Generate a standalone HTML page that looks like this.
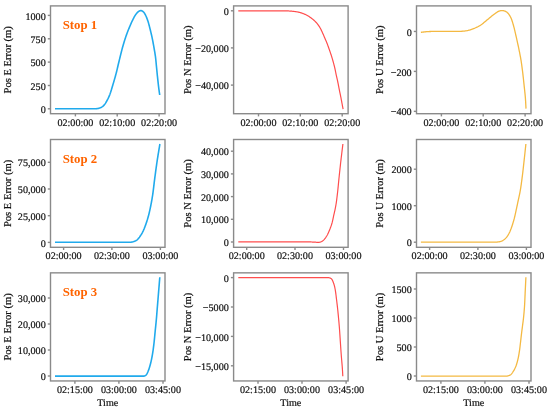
<!DOCTYPE html>
<html><head><meta charset="utf-8"><style>
html,body{margin:0;padding:0;background:#fff;}
svg{display:block;}
.t{font-family:"Liberation Serif","Times New Roman",serif;font-size:10.15px;fill:#111;stroke:#111;stroke-width:0.2px;text-rendering:geometricPrecision;}
.s{font-family:"Liberation Serif","Times New Roman",serif;font-size:13.5px;font-weight:bold;fill:#ff6400;}
</style></head><body>
<svg width="550" height="411" viewBox="0 0 550 411">
<rect width="550" height="411" fill="#fff"/>
<path d="M55.00 108.70 L96.00 108.70 L96.30 108.68 L96.59 108.66 L96.88 108.63 L97.15 108.61 L97.43 108.57 L97.70 108.54 L97.97 108.49 L98.24 108.44 L98.52 108.37 L98.80 108.30 L99.12 108.20 L99.44 108.10 L99.77 107.98 L100.11 107.86 L100.44 107.72 L100.76 107.58 L101.09 107.42 L101.40 107.26 L101.71 107.08 L102.00 106.90 L102.28 106.71 L102.55 106.51 L102.81 106.31 L103.06 106.09 L103.31 105.87 L103.56 105.64 L103.80 105.39 L104.03 105.14 L104.27 104.87 L104.50 104.60 L104.77 104.26 L105.04 103.89 L105.30 103.50 L105.56 103.10 L105.81 102.69 L106.06 102.27 L106.30 101.84 L106.54 101.42 L106.77 101.01 L107.00 100.60 L107.21 100.22 L107.41 99.85 L107.61 99.48 L107.80 99.11 L107.99 98.74 L108.18 98.37 L108.36 97.99 L108.54 97.60 L108.72 97.21 L108.90 96.80 L109.10 96.33 L109.30 95.84 L109.49 95.35 L109.69 94.85 L109.88 94.34 L110.06 93.82 L110.25 93.30 L110.43 92.77 L110.62 92.24 L110.80 91.70 L111.00 91.10 L111.19 90.49 L111.38 89.86 L111.57 89.23 L111.76 88.60 L111.95 87.96 L112.14 87.32 L112.32 86.68 L112.51 86.04 L112.70 85.40 L112.89 84.76 L113.08 84.13 L113.27 83.49 L113.46 82.86 L113.66 82.22 L113.85 81.58 L114.04 80.94 L114.23 80.30 L114.41 79.65 L114.60 79.00 L114.79 78.31 L114.99 77.62 L115.18 76.93 L115.38 76.23 L115.57 75.53 L115.76 74.83 L115.95 74.12 L116.14 73.41 L116.32 72.71 L116.50 72.00 L116.68 71.29 L116.85 70.57 L117.02 69.86 L117.19 69.14 L117.36 68.43 L117.52 67.71 L117.69 66.98 L117.86 66.26 L118.03 65.53 L118.20 64.80 L118.38 64.03 L118.57 63.27 L118.75 62.50 L118.94 61.72 L119.13 60.95 L119.32 60.16 L119.51 59.38 L119.71 58.59 L119.90 57.80 L120.10 57.00 L120.31 56.15 L120.52 55.28 L120.74 54.40 L120.96 53.52 L121.18 52.64 L121.40 51.75 L121.62 50.87 L121.85 50.00 L122.07 49.14 L122.30 48.30 L122.51 47.52 L122.73 46.75 L122.95 45.99 L123.16 45.23 L123.38 44.48 L123.60 43.73 L123.83 42.99 L124.05 42.26 L124.27 41.53 L124.50 40.80 L124.71 40.12 L124.92 39.45 L125.13 38.79 L125.35 38.14 L125.56 37.49 L125.78 36.84 L126.00 36.18 L126.23 35.53 L126.46 34.87 L126.70 34.20 L126.97 33.48 L127.24 32.75 L127.52 32.02 L127.81 31.28 L128.10 30.54 L128.40 29.80 L128.70 29.06 L129.00 28.33 L129.30 27.61 L129.60 26.90 L129.88 26.23 L130.17 25.56 L130.45 24.90 L130.74 24.24 L131.02 23.58 L131.31 22.93 L131.60 22.29 L131.90 21.65 L132.20 21.02 L132.50 20.40 L132.79 19.82 L133.07 19.24 L133.36 18.65 L133.66 18.08 L133.95 17.51 L134.25 16.95 L134.55 16.41 L134.86 15.88 L135.18 15.38 L135.50 14.90 L135.77 14.51 L136.05 14.13 L136.33 13.75 L136.62 13.39 L136.90 13.03 L137.19 12.70 L137.49 12.39 L137.79 12.10 L138.09 11.83 L138.40 11.60 L138.65 11.43 L138.91 11.27 L139.17 11.12 L139.43 10.98 L139.69 10.86 L139.96 10.76 L140.22 10.68 L140.48 10.63 L140.74 10.60 L141.00 10.60 L141.26 10.64 L141.52 10.70 L141.78 10.80 L142.04 10.92 L142.30 11.06 L142.55 11.22 L142.80 11.40 L143.04 11.59 L143.28 11.79 L143.50 12.00 L143.76 12.26 L144.00 12.56 L144.24 12.87 L144.46 13.21 L144.68 13.56 L144.89 13.93 L145.09 14.31 L145.30 14.70 L145.50 15.10 L145.70 15.50 L145.94 15.99 L146.18 16.51 L146.41 17.03 L146.63 17.58 L146.85 18.14 L147.07 18.71 L147.28 19.29 L147.49 19.88 L147.69 20.49 L147.90 21.10 L148.14 21.83 L148.37 22.59 L148.60 23.36 L148.82 24.15 L149.04 24.96 L149.25 25.77 L149.47 26.60 L149.68 27.43 L149.89 28.26 L150.10 29.10 L150.33 30.01 L150.56 30.94 L150.79 31.87 L151.01 32.82 L151.23 33.77 L151.46 34.73 L151.67 35.69 L151.89 36.66 L152.10 37.63 L152.30 38.60 L152.51 39.62 L152.71 40.65 L152.91 41.69 L153.11 42.75 L153.30 43.80 L153.49 44.85 L153.68 45.88 L153.86 46.91 L154.03 47.92 L154.20 48.90 L154.35 49.75 L154.49 50.57 L154.63 51.39 L154.77 52.19 L154.90 52.98 L155.03 53.78 L155.15 54.57 L155.27 55.37 L155.39 56.18 L155.50 57.00 L155.61 57.87 L155.71 58.74 L155.80 59.61 L155.89 60.48 L155.97 61.36 L156.06 62.25 L156.14 63.15 L156.22 64.05 L156.31 64.97 L156.40 65.90 L156.51 66.96 L156.61 68.03 L156.72 69.13 L156.83 70.24 L156.94 71.36 L157.05 72.49 L157.16 73.61 L157.27 74.72 L157.39 75.82 L157.50 76.90 L157.61 77.92 L157.71 78.93 L157.82 79.94 L157.93 80.94 L158.04 81.94 L158.15 82.93 L158.26 83.92 L158.37 84.89 L158.49 85.85 L158.60 86.80 L158.71 87.65 L158.81 88.49 L158.92 89.32 L159.03 90.14 L159.14 90.95 L159.26 91.76 L159.37 92.56 L159.48 93.37 L159.59 94.18 L159.70 95.00" fill="none" stroke="#20aaec" stroke-width="1.60" stroke-linejoin="round" stroke-linecap="butt"/>
<rect x="50.50" y="5.90" width="114.50" height="107.80" fill="none" stroke="#8a8a8a" stroke-width="1.40"/>
<line x1="47.80" y1="108.80" x2="50.50" y2="108.80" stroke="#8a8a8a" stroke-width="1.40"/>
<text x="45.70" y="112.90" text-anchor="end" class="t">0</text>
<line x1="47.80" y1="85.50" x2="50.50" y2="85.50" stroke="#8a8a8a" stroke-width="1.40"/>
<text x="45.70" y="89.60" text-anchor="end" class="t">250</text>
<line x1="47.80" y1="62.10" x2="50.50" y2="62.10" stroke="#8a8a8a" stroke-width="1.40"/>
<text x="45.70" y="66.20" text-anchor="end" class="t">500</text>
<line x1="47.80" y1="38.80" x2="50.50" y2="38.80" stroke="#8a8a8a" stroke-width="1.40"/>
<text x="45.70" y="42.90" text-anchor="end" class="t">750</text>
<line x1="47.80" y1="15.40" x2="50.50" y2="15.40" stroke="#8a8a8a" stroke-width="1.40"/>
<text x="45.70" y="19.50" text-anchor="end" class="t">1000</text>
<line x1="75.40" y1="113.70" x2="75.40" y2="116.40" stroke="#8a8a8a" stroke-width="1.40"/>
<text x="75.40" y="125.60" text-anchor="middle" class="t">02:00:00</text>
<line x1="117.20" y1="113.70" x2="117.20" y2="116.40" stroke="#8a8a8a" stroke-width="1.40"/>
<text x="117.20" y="125.60" text-anchor="middle" class="t">02:10:00</text>
<line x1="159.10" y1="113.70" x2="159.10" y2="116.40" stroke="#8a8a8a" stroke-width="1.40"/>
<text x="159.10" y="125.60" text-anchor="middle" class="t">02:20:00</text>
<text transform="translate(11.10 59.80) rotate(-90)" text-anchor="middle" class="t" style="font-size:10.6px">Pos E Error (m)</text>
<path d="M238.30 10.90 L282.00 10.90 L282.64 10.90 L283.32 10.91 L284.03 10.91 L284.77 10.91 L285.52 10.91 L286.28 10.92 L287.03 10.93 L287.75 10.95 L288.45 10.97 L289.10 11.00 L289.59 11.03 L290.07 11.06 L290.52 11.09 L290.97 11.13 L291.41 11.16 L291.85 11.21 L292.28 11.25 L292.71 11.30 L293.15 11.35 L293.60 11.40 L294.06 11.46 L294.52 11.51 L294.98 11.57 L295.44 11.63 L295.91 11.69 L296.37 11.76 L296.83 11.84 L297.29 11.92 L297.74 12.00 L298.20 12.10 L298.65 12.20 L299.11 12.31 L299.56 12.42 L300.01 12.54 L300.46 12.67 L300.91 12.80 L301.36 12.94 L301.81 13.09 L302.25 13.24 L302.70 13.40 L303.16 13.58 L303.63 13.76 L304.09 13.95 L304.56 14.15 L305.02 14.35 L305.48 14.57 L305.94 14.79 L306.40 15.02 L306.85 15.25 L307.30 15.50 L307.76 15.76 L308.22 16.03 L308.68 16.31 L309.13 16.60 L309.58 16.89 L310.03 17.20 L310.47 17.51 L310.92 17.83 L311.36 18.16 L311.80 18.50 L312.27 18.88 L312.75 19.26 L313.23 19.66 L313.70 20.07 L314.18 20.48 L314.64 20.91 L315.10 21.35 L315.55 21.79 L315.98 22.24 L316.40 22.70 L316.80 23.16 L317.20 23.64 L317.58 24.12 L317.95 24.62 L318.32 25.12 L318.67 25.62 L319.02 26.14 L319.35 26.65 L319.68 27.18 L320.00 27.70 L320.31 28.23 L320.60 28.77 L320.89 29.31 L321.16 29.87 L321.43 30.42 L321.69 30.98 L321.94 31.54 L322.20 32.09 L322.45 32.65 L322.70 33.20 L322.94 33.73 L323.18 34.27 L323.42 34.80 L323.65 35.34 L323.88 35.87 L324.11 36.40 L324.33 36.93 L324.56 37.46 L324.78 37.98 L325.00 38.50 L325.21 38.98 L325.41 39.45 L325.61 39.91 L325.81 40.37 L326.01 40.83 L326.21 41.28 L326.41 41.75 L326.61 42.22 L326.80 42.70 L327.00 43.20 L327.22 43.78 L327.45 44.37 L327.67 44.97 L327.89 45.58 L328.11 46.20 L328.33 46.82 L328.55 47.44 L328.77 48.07 L328.98 48.69 L329.20 49.30 L329.42 49.91 L329.63 50.52 L329.85 51.13 L330.06 51.74 L330.27 52.35 L330.49 52.96 L330.69 53.57 L330.90 54.18 L331.10 54.79 L331.30 55.40 L331.49 56.01 L331.68 56.62 L331.87 57.23 L332.05 57.84 L332.23 58.45 L332.41 59.06 L332.58 59.67 L332.76 60.28 L332.93 60.89 L333.10 61.50 L333.27 62.11 L333.44 62.71 L333.60 63.32 L333.77 63.92 L333.93 64.53 L334.09 65.14 L334.24 65.75 L334.40 66.36 L334.55 66.98 L334.70 67.60 L334.85 68.25 L334.99 68.91 L335.13 69.57 L335.27 70.23 L335.41 70.90 L335.54 71.57 L335.68 72.25 L335.81 72.93 L335.95 73.61 L336.10 74.30 L336.26 75.05 L336.43 75.80 L336.60 76.56 L336.77 77.33 L336.95 78.10 L337.12 78.88 L337.29 79.65 L337.47 80.43 L337.63 81.22 L337.80 82.00 L337.97 82.81 L338.13 83.63 L338.29 84.46 L338.45 85.30 L338.61 86.13 L338.77 86.96 L338.93 87.79 L339.09 88.61 L339.24 89.41 L339.40 90.20 L339.54 90.91 L339.69 91.60 L339.83 92.29 L339.97 92.96 L340.11 93.64 L340.25 94.31 L340.39 94.98 L340.53 95.65 L340.66 96.32 L340.80 97.00 L340.94 97.69 L341.07 98.39 L341.20 99.09 L341.34 99.80 L341.47 100.50 L341.60 101.20 L341.73 101.89 L341.85 102.58 L341.98 103.25 L342.10 103.90 L342.21 104.46 L342.31 105.00 L342.41 105.54 L342.51 106.07 L342.61 106.59 L342.71 107.11 L342.80 107.63 L342.90 108.15 L343.00 108.67 L343.10 109.20" fill="none" stroke="#ff4d4d" stroke-width="1.20" stroke-linejoin="round" stroke-linecap="butt"/>
<rect x="233.60" y="5.90" width="114.50" height="107.80" fill="none" stroke="#8a8a8a" stroke-width="1.40"/>
<line x1="230.90" y1="10.80" x2="233.60" y2="10.80" stroke="#8a8a8a" stroke-width="1.40"/>
<text x="228.80" y="14.90" text-anchor="end" class="t">0</text>
<line x1="230.90" y1="47.90" x2="233.60" y2="47.90" stroke="#8a8a8a" stroke-width="1.40"/>
<text x="228.80" y="52.00" text-anchor="end" class="t">−20,000</text>
<line x1="230.90" y1="85.10" x2="233.60" y2="85.10" stroke="#8a8a8a" stroke-width="1.40"/>
<text x="228.80" y="89.20" text-anchor="end" class="t">−40,000</text>
<line x1="258.50" y1="113.70" x2="258.50" y2="116.40" stroke="#8a8a8a" stroke-width="1.40"/>
<text x="258.50" y="125.60" text-anchor="middle" class="t">02:00:00</text>
<line x1="300.30" y1="113.70" x2="300.30" y2="116.40" stroke="#8a8a8a" stroke-width="1.40"/>
<text x="300.30" y="125.60" text-anchor="middle" class="t">02:10:00</text>
<line x1="342.20" y1="113.70" x2="342.20" y2="116.40" stroke="#8a8a8a" stroke-width="1.40"/>
<text x="342.20" y="125.60" text-anchor="middle" class="t">02:20:00</text>
<text transform="translate(190.90 59.80) rotate(-90)" text-anchor="middle" class="t" style="font-size:10.6px">Pos N Error (m)</text>
<path d="M420.90 32.30 L421.62 32.23 L422.33 32.15 L423.04 32.07 L423.75 32.00 L424.46 31.92 L425.17 31.84 L425.89 31.77 L426.62 31.71 L427.35 31.65 L428.10 31.60 L428.93 31.56 L429.77 31.52 L430.62 31.49 L431.47 31.47 L432.34 31.45 L433.21 31.44 L434.09 31.43 L434.98 31.42 L435.89 31.41 L436.80 31.40 L437.84 31.39 L438.90 31.38 L439.98 31.38 L441.07 31.38 L442.17 31.39 L443.28 31.39 L444.39 31.39 L445.50 31.40 L446.60 31.40 L447.70 31.40 L448.80 31.40 L449.91 31.41 L451.02 31.43 L452.14 31.44 L453.25 31.45 L454.35 31.46 L455.45 31.46 L456.52 31.46 L457.57 31.43 L458.60 31.40 L459.47 31.36 L460.33 31.33 L461.18 31.29 L462.01 31.24 L462.83 31.19 L463.64 31.13 L464.44 31.05 L465.24 30.95 L466.02 30.84 L466.80 30.70 L467.51 30.55 L468.21 30.39 L468.90 30.21 L469.58 30.02 L470.26 29.81 L470.93 29.59 L471.60 29.36 L472.26 29.12 L472.93 28.86 L473.60 28.60 L474.30 28.32 L475.00 28.03 L475.70 27.72 L476.40 27.41 L477.09 27.08 L477.78 26.74 L478.47 26.38 L479.15 26.00 L479.83 25.61 L480.50 25.20 L481.20 24.73 L481.90 24.24 L482.58 23.72 L483.26 23.18 L483.94 22.62 L484.61 22.05 L485.28 21.48 L485.95 20.91 L486.62 20.35 L487.30 19.80 L487.99 19.24 L488.68 18.68 L489.37 18.10 L490.07 17.52 L490.76 16.94 L491.45 16.37 L492.13 15.82 L492.80 15.28 L493.46 14.78 L494.10 14.30 L494.61 13.93 L495.10 13.56 L495.59 13.20 L496.06 12.85 L496.54 12.51 L497.01 12.20 L497.48 11.90 L497.95 11.64 L498.42 11.40 L498.90 11.20 L499.31 11.05 L499.72 10.92 L500.14 10.81 L500.55 10.72 L500.96 10.64 L501.37 10.59 L501.78 10.56 L502.19 10.55 L502.60 10.56 L503.00 10.60 L503.41 10.67 L503.83 10.76 L504.24 10.87 L504.66 11.01 L505.07 11.17 L505.48 11.35 L505.87 11.56 L506.26 11.78 L506.64 12.03 L507.00 12.30 L507.40 12.64 L507.80 13.03 L508.17 13.44 L508.54 13.89 L508.90 14.37 L509.24 14.86 L509.57 15.38 L509.89 15.91 L510.20 16.45 L510.50 17.00 L510.83 17.65 L511.14 18.34 L511.43 19.04 L511.71 19.77 L511.97 20.52 L512.22 21.28 L512.47 22.07 L512.71 22.86 L512.95 23.68 L513.20 24.50 L513.49 25.51 L513.78 26.55 L514.06 27.62 L514.33 28.71 L514.59 29.82 L514.86 30.95 L515.12 32.09 L515.38 33.23 L515.64 34.37 L515.90 35.50 L516.18 36.69 L516.45 37.90 L516.73 39.12 L517.01 40.34 L517.28 41.57 L517.55 42.80 L517.82 44.03 L518.09 45.26 L518.35 46.48 L518.60 47.70 L518.85 48.90 L519.09 50.09 L519.34 51.29 L519.58 52.48 L519.81 53.67 L520.04 54.86 L520.27 56.05 L520.49 57.24 L520.70 58.42 L520.90 59.60 L521.09 60.73 L521.26 61.85 L521.43 62.96 L521.59 64.07 L521.75 65.18 L521.90 66.29 L522.05 67.42 L522.20 68.55 L522.35 69.71 L522.50 70.90 L522.67 72.27 L522.84 73.68 L523.00 75.12 L523.17 76.57 L523.33 78.04 L523.49 79.52 L523.64 80.99 L523.80 82.45 L523.95 83.89 L524.10 85.30 L524.24 86.62 L524.38 87.93 L524.53 89.23 L524.67 90.53 L524.80 91.82 L524.94 93.11 L525.07 94.38 L525.19 95.63 L525.30 96.87 L525.40 98.10 L525.48 99.19 L525.55 100.27 L525.62 101.32 L525.68 102.37 L525.73 103.41 L525.79 104.45 L525.84 105.48 L525.89 106.52 L525.94 107.55 L526.00 108.60" fill="none" stroke="#f4b942" stroke-width="1.30" stroke-linejoin="round" stroke-linecap="butt"/>
<rect x="416.50" y="5.90" width="114.50" height="107.80" fill="none" stroke="#8a8a8a" stroke-width="1.40"/>
<line x1="413.80" y1="31.45" x2="416.50" y2="31.45" stroke="#8a8a8a" stroke-width="1.40"/>
<text x="411.70" y="35.55" text-anchor="end" class="t">0</text>
<line x1="413.80" y1="71.40" x2="416.50" y2="71.40" stroke="#8a8a8a" stroke-width="1.40"/>
<text x="411.70" y="75.50" text-anchor="end" class="t">−200</text>
<line x1="413.80" y1="111.35" x2="416.50" y2="111.35" stroke="#8a8a8a" stroke-width="1.40"/>
<text x="411.70" y="115.45" text-anchor="end" class="t">−400</text>
<line x1="441.40" y1="113.70" x2="441.40" y2="116.40" stroke="#8a8a8a" stroke-width="1.40"/>
<text x="441.40" y="125.60" text-anchor="middle" class="t">02:00:00</text>
<line x1="483.20" y1="113.70" x2="483.20" y2="116.40" stroke="#8a8a8a" stroke-width="1.40"/>
<text x="483.20" y="125.60" text-anchor="middle" class="t">02:10:00</text>
<line x1="525.10" y1="113.70" x2="525.10" y2="116.40" stroke="#8a8a8a" stroke-width="1.40"/>
<text x="525.10" y="125.60" text-anchor="middle" class="t">02:20:00</text>
<text transform="translate(383.30 59.80) rotate(-90)" text-anchor="middle" class="t" style="font-size:10.6px">Pos U Error (m)</text>
<text transform="translate(62.7 28.60) scale(0.95 1)" class="s">Stop 1</text>
<path d="M55.00 242.30 L129.70 242.30 L130.10 242.26 L130.51 242.22 L130.92 242.18 L131.33 242.13 L131.73 242.07 L132.14 242.00 L132.54 241.92 L132.93 241.83 L133.32 241.72 L133.70 241.60 L134.06 241.47 L134.42 241.33 L134.77 241.19 L135.12 241.03 L135.46 240.86 L135.80 240.68 L136.13 240.49 L136.46 240.28 L136.78 240.05 L137.10 239.80 L137.46 239.49 L137.81 239.14 L138.16 238.77 L138.50 238.38 L138.83 237.97 L139.16 237.54 L139.48 237.11 L139.79 236.67 L140.10 236.23 L140.40 235.80 L140.70 235.36 L140.99 234.92 L141.27 234.47 L141.55 234.01 L141.81 233.55 L142.08 233.08 L142.34 232.60 L142.59 232.12 L142.85 231.61 L143.10 231.10 L143.39 230.49 L143.67 229.86 L143.95 229.22 L144.23 228.57 L144.50 227.90 L144.76 227.22 L145.02 226.53 L145.28 225.82 L145.54 225.12 L145.80 224.40 L146.09 223.58 L146.37 222.74 L146.66 221.88 L146.94 221.01 L147.21 220.13 L147.49 219.25 L147.75 218.36 L148.01 217.47 L148.26 216.58 L148.50 215.70 L148.73 214.84 L148.95 213.98 L149.16 213.13 L149.36 212.28 L149.55 211.42 L149.75 210.56 L149.94 209.69 L150.12 208.81 L150.31 207.91 L150.50 207.00 L150.71 205.97 L150.92 204.93 L151.12 203.89 L151.32 202.84 L151.52 201.77 L151.72 200.68 L151.92 199.56 L152.11 198.41 L152.31 197.23 L152.50 196.00 L152.75 194.32 L152.99 192.55 L153.24 190.70 L153.47 188.79 L153.71 186.84 L153.95 184.88 L154.18 182.91 L154.42 180.97 L154.66 179.05 L154.90 177.20 L155.13 175.50 L155.35 173.81 L155.57 172.14 L155.80 170.48 L156.02 168.83 L156.25 167.19 L156.48 165.54 L156.71 163.90 L156.95 162.25 L157.20 160.60 L157.45 158.94 L157.71 157.28 L157.98 155.62 L158.25 153.96 L158.53 152.30 L158.80 150.64 L159.08 148.98 L159.35 147.32 L159.63 145.66 L159.90 144.00" fill="none" stroke="#20aaec" stroke-width="1.60" stroke-linejoin="round" stroke-linecap="butt"/>
<rect x="50.50" y="139.50" width="114.50" height="107.80" fill="none" stroke="#8a8a8a" stroke-width="1.40"/>
<line x1="47.80" y1="242.40" x2="50.50" y2="242.40" stroke="#8a8a8a" stroke-width="1.40"/>
<text x="45.70" y="246.50" text-anchor="end" class="t">0</text>
<line x1="47.80" y1="215.70" x2="50.50" y2="215.70" stroke="#8a8a8a" stroke-width="1.40"/>
<text x="45.70" y="219.80" text-anchor="end" class="t">25,000</text>
<line x1="47.80" y1="189.00" x2="50.50" y2="189.00" stroke="#8a8a8a" stroke-width="1.40"/>
<text x="45.70" y="193.10" text-anchor="end" class="t">50,000</text>
<line x1="47.80" y1="162.30" x2="50.50" y2="162.30" stroke="#8a8a8a" stroke-width="1.40"/>
<text x="45.70" y="166.40" text-anchor="end" class="t">75,000</text>
<line x1="63.60" y1="247.30" x2="63.60" y2="250.00" stroke="#8a8a8a" stroke-width="1.40"/>
<text x="63.60" y="259.20" text-anchor="middle" class="t">02:00:00</text>
<line x1="111.90" y1="247.30" x2="111.90" y2="250.00" stroke="#8a8a8a" stroke-width="1.40"/>
<text x="111.90" y="259.20" text-anchor="middle" class="t">02:30:00</text>
<line x1="160.40" y1="247.30" x2="160.40" y2="250.00" stroke="#8a8a8a" stroke-width="1.40"/>
<text x="160.40" y="259.20" text-anchor="middle" class="t">03:00:00</text>
<text transform="translate(11.10 193.40) rotate(-90)" text-anchor="middle" class="t" style="font-size:10.6px">Pos E Error (m)</text>
<path d="M238.30 241.80 L308.40 241.80 L309.01 241.82 L309.65 241.86 L310.32 241.90 L311.01 241.95 L311.72 242.00 L312.42 242.05 L313.12 242.10 L313.81 242.14 L314.47 242.18 L315.10 242.20 L315.61 242.22 L316.11 242.25 L316.60 242.29 L317.09 242.32 L317.57 242.35 L318.03 242.36 L318.49 242.36 L318.94 242.33 L319.38 242.28 L319.80 242.20 L320.17 242.10 L320.52 241.99 L320.87 241.86 L321.20 241.71 L321.53 241.55 L321.85 241.37 L322.17 241.17 L322.48 240.96 L322.79 240.74 L323.10 240.50 L323.46 240.19 L323.81 239.85 L324.16 239.49 L324.50 239.10 L324.84 238.70 L325.17 238.27 L325.49 237.84 L325.80 237.40 L326.10 236.95 L326.40 236.50 L326.71 236.01 L327.00 235.51 L327.29 234.99 L327.56 234.47 L327.82 233.93 L328.08 233.38 L328.34 232.83 L328.59 232.26 L328.85 231.68 L329.10 231.10 L329.39 230.42 L329.68 229.73 L329.96 229.03 L330.25 228.31 L330.52 227.58 L330.80 226.84 L331.06 226.09 L331.32 225.33 L331.56 224.57 L331.80 223.80 L332.04 222.97 L332.26 222.12 L332.47 221.27 L332.67 220.40 L332.86 219.53 L333.05 218.65 L333.23 217.76 L333.42 216.88 L333.61 215.99 L333.80 215.10 L334.01 214.18 L334.21 213.27 L334.42 212.35 L334.63 211.44 L334.84 210.52 L335.04 209.59 L335.24 208.64 L335.43 207.68 L335.62 206.70 L335.80 205.70 L336.00 204.52 L336.19 203.31 L336.37 202.08 L336.54 200.83 L336.71 199.56 L336.87 198.28 L337.03 196.98 L337.19 195.66 L337.34 194.34 L337.50 193.00 L337.67 191.49 L337.84 189.96 L338.00 188.40 L338.15 186.82 L338.31 185.23 L338.46 183.63 L338.62 182.02 L338.78 180.41 L338.94 178.80 L339.10 177.20 L339.27 175.56 L339.45 173.91 L339.62 172.25 L339.80 170.59 L339.98 168.92 L340.16 167.26 L340.34 165.59 L340.52 163.93 L340.71 162.26 L340.90 160.60 L341.09 158.94 L341.29 157.28 L341.49 155.62 L341.69 153.96 L341.89 152.30 L342.09 150.64 L342.29 148.98 L342.50 147.32 L342.70 145.66 L342.90 144.00" fill="none" stroke="#ff4d4d" stroke-width="1.20" stroke-linejoin="round" stroke-linecap="butt"/>
<rect x="233.60" y="139.50" width="114.50" height="107.80" fill="none" stroke="#8a8a8a" stroke-width="1.40"/>
<line x1="230.90" y1="242.00" x2="233.60" y2="242.00" stroke="#8a8a8a" stroke-width="1.40"/>
<text x="228.80" y="246.10" text-anchor="end" class="t">0</text>
<line x1="230.90" y1="219.30" x2="233.60" y2="219.30" stroke="#8a8a8a" stroke-width="1.40"/>
<text x="228.80" y="223.40" text-anchor="end" class="t">10,000</text>
<line x1="230.90" y1="196.60" x2="233.60" y2="196.60" stroke="#8a8a8a" stroke-width="1.40"/>
<text x="228.80" y="200.70" text-anchor="end" class="t">20,000</text>
<line x1="230.90" y1="173.90" x2="233.60" y2="173.90" stroke="#8a8a8a" stroke-width="1.40"/>
<text x="228.80" y="178.00" text-anchor="end" class="t">30,000</text>
<line x1="230.90" y1="151.20" x2="233.60" y2="151.20" stroke="#8a8a8a" stroke-width="1.40"/>
<text x="228.80" y="155.30" text-anchor="end" class="t">40,000</text>
<line x1="246.70" y1="247.30" x2="246.70" y2="250.00" stroke="#8a8a8a" stroke-width="1.40"/>
<text x="246.70" y="259.20" text-anchor="middle" class="t">02:00:00</text>
<line x1="295.00" y1="247.30" x2="295.00" y2="250.00" stroke="#8a8a8a" stroke-width="1.40"/>
<text x="295.00" y="259.20" text-anchor="middle" class="t">02:30:00</text>
<line x1="343.50" y1="247.30" x2="343.50" y2="250.00" stroke="#8a8a8a" stroke-width="1.40"/>
<text x="343.50" y="259.20" text-anchor="middle" class="t">03:00:00</text>
<text transform="translate(190.90 193.40) rotate(-90)" text-anchor="middle" class="t" style="font-size:10.6px">Pos N Error (m)</text>
<path d="M420.90 242.20 L497.40 242.00 L497.80 241.96 L498.21 241.92 L498.61 241.87 L499.02 241.82 L499.42 241.75 L499.82 241.67 L500.22 241.58 L500.62 241.48 L501.01 241.35 L501.40 241.20 L501.82 241.01 L502.24 240.81 L502.65 240.58 L503.07 240.33 L503.48 240.06 L503.88 239.78 L504.27 239.48 L504.66 239.17 L505.04 238.84 L505.40 238.50 L505.79 238.11 L506.16 237.69 L506.52 237.25 L506.88 236.80 L507.22 236.32 L507.56 235.83 L507.88 235.34 L508.20 234.83 L508.50 234.32 L508.80 233.80 L509.10 233.25 L509.39 232.69 L509.67 232.12 L509.93 231.54 L510.18 230.94 L510.43 230.34 L510.67 229.73 L510.91 229.10 L511.16 228.46 L511.40 227.80 L511.69 227.00 L511.98 226.17 L512.26 225.32 L512.54 224.45 L512.82 223.57 L513.09 222.67 L513.35 221.77 L513.61 220.87 L513.86 219.98 L514.10 219.10 L514.33 218.24 L514.54 217.37 L514.75 216.51 L514.95 215.64 L515.15 214.78 L515.34 213.91 L515.53 213.04 L515.72 212.16 L515.91 211.28 L516.10 210.40 L516.30 209.48 L516.50 208.55 L516.70 207.62 L516.90 206.68 L517.10 205.74 L517.30 204.80 L517.50 203.85 L517.70 202.90 L517.90 201.95 L518.10 201.00 L518.31 200.02 L518.52 199.05 L518.74 198.08 L518.95 197.10 L519.17 196.12 L519.38 195.14 L519.60 194.13 L519.80 193.11 L520.00 192.07 L520.20 191.00 L520.42 189.72 L520.64 188.41 L520.84 187.07 L521.05 185.71 L521.25 184.32 L521.44 182.92 L521.63 181.51 L521.82 180.08 L522.01 178.64 L522.20 177.20 L522.40 175.60 L522.60 173.98 L522.80 172.33 L522.99 170.67 L523.18 169.00 L523.36 167.32 L523.55 165.63 L523.73 163.95 L523.92 162.27 L524.10 160.60 L524.28 158.94 L524.47 157.28 L524.65 155.62 L524.83 153.96 L525.01 152.30 L525.18 150.64 L525.36 148.98 L525.54 147.32 L525.72 145.66 L525.90 144.00" fill="none" stroke="#f4b942" stroke-width="1.30" stroke-linejoin="round" stroke-linecap="butt"/>
<rect x="416.50" y="139.50" width="114.50" height="107.80" fill="none" stroke="#8a8a8a" stroke-width="1.40"/>
<line x1="413.80" y1="242.20" x2="416.50" y2="242.20" stroke="#8a8a8a" stroke-width="1.40"/>
<text x="411.70" y="246.30" text-anchor="end" class="t">0</text>
<line x1="413.80" y1="205.70" x2="416.50" y2="205.70" stroke="#8a8a8a" stroke-width="1.40"/>
<text x="411.70" y="209.80" text-anchor="end" class="t">1000</text>
<line x1="413.80" y1="169.20" x2="416.50" y2="169.20" stroke="#8a8a8a" stroke-width="1.40"/>
<text x="411.70" y="173.30" text-anchor="end" class="t">2000</text>
<line x1="429.60" y1="247.30" x2="429.60" y2="250.00" stroke="#8a8a8a" stroke-width="1.40"/>
<text x="429.60" y="259.20" text-anchor="middle" class="t">02:00:00</text>
<line x1="477.90" y1="247.30" x2="477.90" y2="250.00" stroke="#8a8a8a" stroke-width="1.40"/>
<text x="477.90" y="259.20" text-anchor="middle" class="t">02:30:00</text>
<line x1="526.40" y1="247.30" x2="526.40" y2="250.00" stroke="#8a8a8a" stroke-width="1.40"/>
<text x="526.40" y="259.20" text-anchor="middle" class="t">03:00:00</text>
<text transform="translate(383.30 193.40) rotate(-90)" text-anchor="middle" class="t" style="font-size:10.6px">Pos U Error (m)</text>
<text transform="translate(62.7 162.70) scale(0.95 1)" class="s">Stop 2</text>
<path d="M55.00 376.10 L144.10 376.10 L144.36 376.02 L144.61 375.92 L144.84 375.82 L145.07 375.70 L145.29 375.57 L145.50 375.43 L145.71 375.27 L145.91 375.10 L146.10 374.91 L146.30 374.70 L146.56 374.38 L146.81 374.02 L147.04 373.63 L147.27 373.21 L147.48 372.76 L147.69 372.29 L147.90 371.81 L148.10 371.31 L148.30 370.81 L148.50 370.30 L148.75 369.66 L148.99 368.98 L149.22 368.28 L149.45 367.56 L149.67 366.82 L149.89 366.07 L150.10 365.31 L150.30 364.54 L150.50 363.77 L150.70 363.00 L150.91 362.16 L151.11 361.31 L151.30 360.45 L151.49 359.58 L151.67 358.70 L151.84 357.81 L152.01 356.92 L152.18 356.02 L152.34 355.11 L152.50 354.20 L152.66 353.22 L152.82 352.23 L152.97 351.24 L153.11 350.24 L153.25 349.23 L153.38 348.21 L153.51 347.18 L153.64 346.13 L153.77 345.07 L153.90 344.00 L154.04 342.76 L154.18 341.49 L154.31 340.18 L154.45 338.86 L154.58 337.53 L154.70 336.20 L154.83 334.87 L154.95 333.56 L155.08 332.26 L155.20 331.00 L155.31 329.87 L155.43 328.76 L155.54 327.67 L155.65 326.59 L155.76 325.51 L155.87 324.44 L155.98 323.35 L156.09 322.26 L156.19 321.14 L156.30 320.00 L156.41 318.71 L156.53 317.40 L156.64 316.07 L156.75 314.73 L156.85 313.37 L156.96 312.00 L157.07 310.63 L157.18 309.26 L157.29 307.88 L157.40 306.50 L157.52 305.06 L157.64 303.62 L157.76 302.16 L157.88 300.70 L158.00 299.24 L158.12 297.77 L158.24 296.30 L158.36 294.83 L158.48 293.36 L158.60 291.90 L158.72 290.44 L158.84 288.98 L158.96 287.52 L159.08 286.06 L159.20 284.60 L159.32 283.14 L159.44 281.68 L159.56 280.22 L159.68 278.76 L159.80 277.30" fill="none" stroke="#20aaec" stroke-width="1.60" stroke-linejoin="round" stroke-linecap="butt"/>
<rect x="50.50" y="272.85" width="114.50" height="108.10" fill="none" stroke="#8a8a8a" stroke-width="1.40"/>
<line x1="47.80" y1="376.00" x2="50.50" y2="376.00" stroke="#8a8a8a" stroke-width="1.40"/>
<text x="45.70" y="380.10" text-anchor="end" class="t">0</text>
<line x1="47.80" y1="350.00" x2="50.50" y2="350.00" stroke="#8a8a8a" stroke-width="1.40"/>
<text x="45.70" y="354.10" text-anchor="end" class="t">10,000</text>
<line x1="47.80" y1="324.00" x2="50.50" y2="324.00" stroke="#8a8a8a" stroke-width="1.40"/>
<text x="45.70" y="328.10" text-anchor="end" class="t">20,000</text>
<line x1="47.80" y1="298.00" x2="50.50" y2="298.00" stroke="#8a8a8a" stroke-width="1.40"/>
<text x="45.70" y="302.10" text-anchor="end" class="t">30,000</text>
<line x1="74.90" y1="380.95" x2="74.90" y2="383.65" stroke="#8a8a8a" stroke-width="1.40"/>
<text x="74.90" y="392.85" text-anchor="middle" class="t">02:15:00</text>
<line x1="118.90" y1="380.95" x2="118.90" y2="383.65" stroke="#8a8a8a" stroke-width="1.40"/>
<text x="118.90" y="392.85" text-anchor="middle" class="t">03:00:00</text>
<line x1="163.00" y1="380.95" x2="163.00" y2="383.65" stroke="#8a8a8a" stroke-width="1.40"/>
<text x="163.00" y="392.85" text-anchor="middle" class="t">03:45:00</text>
<text transform="translate(11.10 326.90) rotate(-90)" text-anchor="middle" class="t" style="font-size:10.6px">Pos E Error (m)</text>
<text x="107.75" y="405.60" text-anchor="middle" class="t">Time</text>
<path d="M238.30 277.60 L328.50 277.60 L328.82 277.67 L329.13 277.73 L329.45 277.81 L329.75 277.90 L330.05 278.00 L330.34 278.12 L330.62 278.25 L330.89 278.41 L331.15 278.59 L331.40 278.80 L331.69 279.11 L331.95 279.46 L332.20 279.86 L332.43 280.29 L332.65 280.75 L332.85 281.23 L333.05 281.72 L333.24 282.22 L333.42 282.71 L333.60 283.20 L333.79 283.73 L333.97 284.27 L334.13 284.81 L334.29 285.37 L334.43 285.93 L334.57 286.51 L334.71 287.10 L334.84 287.71 L334.97 288.35 L335.10 289.00 L335.27 289.90 L335.42 290.85 L335.57 291.84 L335.72 292.86 L335.85 293.91 L335.99 294.97 L336.12 296.04 L336.24 297.11 L336.37 298.16 L336.50 299.20 L336.63 300.23 L336.76 301.26 L336.88 302.29 L337.00 303.32 L337.13 304.35 L337.24 305.38 L337.36 306.41 L337.48 307.44 L337.59 308.47 L337.70 309.50 L337.81 310.52 L337.92 311.55 L338.02 312.57 L338.12 313.60 L338.22 314.62 L338.32 315.65 L338.42 316.67 L338.51 317.68 L338.61 318.69 L338.70 319.70 L338.79 320.66 L338.87 321.61 L338.96 322.56 L339.04 323.50 L339.12 324.44 L339.20 325.38 L339.27 326.33 L339.35 327.28 L339.43 328.23 L339.50 329.20 L339.58 330.21 L339.65 331.22 L339.72 332.23 L339.78 333.24 L339.85 334.26 L339.92 335.29 L339.98 336.34 L340.05 337.40 L340.13 338.49 L340.20 339.60 L340.29 340.96 L340.39 342.36 L340.48 343.80 L340.58 345.26 L340.68 346.74 L340.78 348.24 L340.88 349.74 L340.98 351.24 L341.09 352.73 L341.20 354.20 L341.32 355.69 L341.44 357.22 L341.57 358.77 L341.70 360.32 L341.83 361.87 L341.96 363.38 L342.09 364.86 L342.20 366.28 L342.31 367.64 L342.40 368.90 L342.45 369.73 L342.50 370.52 L342.55 371.28 L342.59 372.00 L342.62 372.71 L342.66 373.40 L342.69 374.09 L342.73 374.78 L342.76 375.48 L342.80 376.20" fill="none" stroke="#ff4d4d" stroke-width="1.20" stroke-linejoin="round" stroke-linecap="butt"/>
<rect x="233.60" y="272.85" width="114.50" height="108.10" fill="none" stroke="#8a8a8a" stroke-width="1.40"/>
<line x1="230.90" y1="277.60" x2="233.60" y2="277.60" stroke="#8a8a8a" stroke-width="1.40"/>
<text x="228.80" y="281.70" text-anchor="end" class="t">0</text>
<line x1="230.90" y1="307.00" x2="233.60" y2="307.00" stroke="#8a8a8a" stroke-width="1.40"/>
<text x="228.80" y="311.10" text-anchor="end" class="t">−5000</text>
<line x1="230.90" y1="336.40" x2="233.60" y2="336.40" stroke="#8a8a8a" stroke-width="1.40"/>
<text x="228.80" y="340.50" text-anchor="end" class="t">−10,000</text>
<line x1="230.90" y1="365.80" x2="233.60" y2="365.80" stroke="#8a8a8a" stroke-width="1.40"/>
<text x="228.80" y="369.90" text-anchor="end" class="t">−15,000</text>
<line x1="258.00" y1="380.95" x2="258.00" y2="383.65" stroke="#8a8a8a" stroke-width="1.40"/>
<text x="258.00" y="392.85" text-anchor="middle" class="t">02:15:00</text>
<line x1="302.00" y1="380.95" x2="302.00" y2="383.65" stroke="#8a8a8a" stroke-width="1.40"/>
<text x="302.00" y="392.85" text-anchor="middle" class="t">03:00:00</text>
<line x1="346.10" y1="380.95" x2="346.10" y2="383.65" stroke="#8a8a8a" stroke-width="1.40"/>
<text x="346.10" y="392.85" text-anchor="middle" class="t">03:45:00</text>
<text transform="translate(190.90 326.90) rotate(-90)" text-anchor="middle" class="t" style="font-size:10.6px">Pos N Error (m)</text>
<text x="290.85" y="405.60" text-anchor="middle" class="t">Time</text>
<path d="M420.90 376.10 L506.90 376.10 L507.29 376.03 L507.67 375.94 L508.06 375.84 L508.45 375.73 L508.83 375.61 L509.20 375.46 L509.57 375.30 L509.93 375.12 L510.27 374.92 L510.60 374.70 L510.94 374.43 L511.27 374.12 L511.58 373.78 L511.87 373.43 L512.16 373.05 L512.44 372.65 L512.71 372.25 L512.98 371.83 L513.24 371.42 L513.50 371.00 L513.78 370.54 L514.06 370.06 L514.33 369.58 L514.59 369.08 L514.84 368.57 L515.09 368.05 L515.33 367.52 L515.56 366.99 L515.78 366.45 L516.00 365.90 L516.23 365.29 L516.44 364.68 L516.65 364.05 L516.85 363.41 L517.04 362.76 L517.22 362.10 L517.40 361.44 L517.57 360.77 L517.73 360.09 L517.90 359.40 L518.08 358.63 L518.25 357.85 L518.41 357.05 L518.57 356.25 L518.72 355.43 L518.86 354.61 L519.00 353.79 L519.14 352.96 L519.27 352.13 L519.40 351.30 L519.53 350.44 L519.65 349.57 L519.77 348.69 L519.88 347.81 L519.98 346.92 L520.09 346.04 L520.19 345.15 L520.29 344.26 L520.40 343.38 L520.50 342.50 L520.60 341.63 L520.71 340.75 L520.81 339.87 L520.90 338.99 L521.00 338.12 L521.10 337.24 L521.20 336.37 L521.30 335.51 L521.40 334.65 L521.50 333.80 L521.60 333.00 L521.70 332.21 L521.80 331.43 L521.90 330.65 L522.00 329.88 L522.10 329.11 L522.20 328.33 L522.30 327.56 L522.40 326.78 L522.50 326.00 L522.60 325.21 L522.70 324.43 L522.81 323.65 L522.91 322.88 L523.01 322.10 L523.11 321.31 L523.21 320.51 L523.31 319.70 L523.41 318.86 L523.50 318.00 L523.61 316.94 L523.72 315.86 L523.83 314.75 L523.93 313.62 L524.04 312.47 L524.14 311.30 L524.23 310.12 L524.33 308.92 L524.42 307.72 L524.50 306.50 L524.59 305.11 L524.67 303.69 L524.74 302.25 L524.81 300.79 L524.88 299.31 L524.94 297.82 L525.00 296.34 L525.07 294.85 L525.13 293.37 L525.20 291.90 L525.27 290.44 L525.34 288.98 L525.41 287.52 L525.48 286.06 L525.55 284.60 L525.62 283.14 L525.69 281.68 L525.76 280.22 L525.83 278.76 L525.90 277.30" fill="none" stroke="#f4b942" stroke-width="1.30" stroke-linejoin="round" stroke-linecap="butt"/>
<rect x="416.50" y="272.85" width="114.50" height="108.10" fill="none" stroke="#8a8a8a" stroke-width="1.40"/>
<line x1="413.80" y1="376.00" x2="416.50" y2="376.00" stroke="#8a8a8a" stroke-width="1.40"/>
<text x="411.70" y="380.10" text-anchor="end" class="t">0</text>
<line x1="413.80" y1="347.00" x2="416.50" y2="347.00" stroke="#8a8a8a" stroke-width="1.40"/>
<text x="411.70" y="351.10" text-anchor="end" class="t">500</text>
<line x1="413.80" y1="318.00" x2="416.50" y2="318.00" stroke="#8a8a8a" stroke-width="1.40"/>
<text x="411.70" y="322.10" text-anchor="end" class="t">1000</text>
<line x1="413.80" y1="289.00" x2="416.50" y2="289.00" stroke="#8a8a8a" stroke-width="1.40"/>
<text x="411.70" y="293.10" text-anchor="end" class="t">1500</text>
<line x1="440.90" y1="380.95" x2="440.90" y2="383.65" stroke="#8a8a8a" stroke-width="1.40"/>
<text x="440.90" y="392.85" text-anchor="middle" class="t">02:15:00</text>
<line x1="484.90" y1="380.95" x2="484.90" y2="383.65" stroke="#8a8a8a" stroke-width="1.40"/>
<text x="484.90" y="392.85" text-anchor="middle" class="t">03:00:00</text>
<line x1="529.00" y1="380.95" x2="529.00" y2="383.65" stroke="#8a8a8a" stroke-width="1.40"/>
<text x="529.00" y="392.85" text-anchor="middle" class="t">03:45:00</text>
<text transform="translate(383.30 326.90) rotate(-90)" text-anchor="middle" class="t" style="font-size:10.6px">Pos U Error (m)</text>
<text x="473.75" y="405.60" text-anchor="middle" class="t">Time</text>
<text transform="translate(62.7 295.55) scale(0.95 1)" class="s">Stop 3</text>
</svg>
</body></html>
